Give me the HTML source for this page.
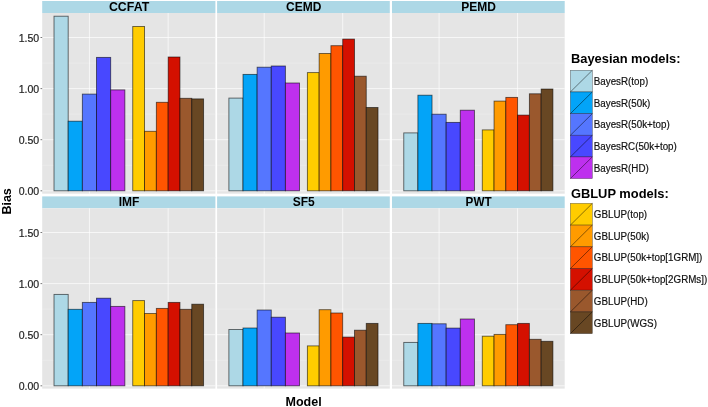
<!DOCTYPE html>
<html><head><meta charset="utf-8"><title>Bias by model</title>
<style>
html,body{margin:0;padding:0;background:#fff;}
body{width:708px;height:407px;overflow:hidden;}
svg{display:block;}
text{font-family:"Liberation Sans",Arial,sans-serif;}
.st{font-size:12px;font-weight:bold;fill:#000;text-anchor:middle;}
.yt{font-size:11.3px;fill:#222;stroke:#222;stroke-width:0.2px;text-anchor:end;}
.at{font-size:13px;font-weight:bold;fill:#000;}
.lt{font-size:13.3px;font-weight:bold;fill:#000;}
.ll{font-size:11.0px;fill:#111;stroke:#111;stroke-width:0.2px;}
</style></head>
<body><svg width="708" height="407" viewBox="0 0 708 407">
<rect width="708" height="407" fill="#fff"/>
<rect x="42.2" y="1" width="173.2" height="12" fill="#ADD8E6"/>
<text transform="translate(129.05,11) scale(1.03,1)" class="st">CCFAT</text>
<rect x="42.2" y="13" width="173.2" height="180.7" fill="#E5E5E5"/>
<line x1="42.2" x2="215.4" y1="165.25" y2="165.25" stroke="#F2F2F2" stroke-width="0.45"/>
<line x1="42.2" x2="215.4" y1="114.15" y2="114.15" stroke="#F2F2F2" stroke-width="0.45"/>
<line x1="42.2" x2="215.4" y1="63.05" y2="63.05" stroke="#F2F2F2" stroke-width="0.45"/>
<line x1="42.2" x2="215.4" y1="190.8" y2="190.8" stroke="#FFFFFF" stroke-opacity="0.85" stroke-width="0.8"/>
<line x1="42.2" x2="215.4" y1="139.7" y2="139.7" stroke="#FFFFFF" stroke-opacity="0.85" stroke-width="0.8"/>
<line x1="42.2" x2="215.4" y1="88.6" y2="88.6" stroke="#FFFFFF" stroke-opacity="0.85" stroke-width="0.8"/>
<line x1="42.2" x2="215.4" y1="37.5" y2="37.5" stroke="#FFFFFF" stroke-opacity="0.85" stroke-width="0.8"/>
<line x1="89.44" x2="89.44" y1="13" y2="193.7" stroke="#FFFFFF" stroke-opacity="0.85" stroke-width="0.8"/>
<line x1="168.16" x2="168.16" y1="13" y2="193.7" stroke="#FFFFFF" stroke-opacity="0.85" stroke-width="0.8"/>
<rect x="54.01" y="16.2" width="14.17" height="174.6" fill="#ADD8E6" stroke="#000" stroke-opacity="0.6" stroke-width="0.9"/>
<rect x="68.18" y="121.2" width="14.17" height="69.6" fill="#03A4F8" stroke="#000" stroke-opacity="0.6" stroke-width="0.9"/>
<rect x="82.35" y="94.1" width="14.17" height="96.7" fill="#5576FF" stroke="#000" stroke-opacity="0.6" stroke-width="0.9"/>
<rect x="96.52" y="57.4" width="14.17" height="133.4" fill="#4848FF" stroke="#000" stroke-opacity="0.6" stroke-width="0.9"/>
<rect x="110.69" y="89.9" width="14.17" height="100.9" fill="#BE30EE" stroke="#000" stroke-opacity="0.6" stroke-width="0.9"/>
<rect x="132.74" y="26.5" width="11.81" height="164.3" fill="#FFCC00" stroke="#000" stroke-opacity="0.6" stroke-width="0.9"/>
<rect x="144.55" y="131.3" width="11.81" height="59.5" fill="#FF9B00" stroke="#000" stroke-opacity="0.6" stroke-width="0.9"/>
<rect x="156.35" y="102.3" width="11.81" height="88.5" fill="#FF5500" stroke="#000" stroke-opacity="0.6" stroke-width="0.9"/>
<rect x="168.16" y="57" width="11.81" height="133.8" fill="#D41000" stroke="#000" stroke-opacity="0.6" stroke-width="0.9"/>
<rect x="179.97" y="98.3" width="11.81" height="92.5" fill="#9A582D" stroke="#000" stroke-opacity="0.6" stroke-width="0.9"/>
<rect x="191.78" y="98.9" width="11.81" height="91.9" fill="#684723" stroke="#000" stroke-opacity="0.6" stroke-width="0.9"/>
<rect x="217.1" y="1" width="172.7" height="12" fill="#ADD8E6"/>
<text transform="translate(303.7,11) scale(1.0,1)" class="st">CEMD</text>
<rect x="217.1" y="13" width="172.7" height="180.7" fill="#E5E5E5"/>
<line x1="217.1" x2="389.8" y1="165.25" y2="165.25" stroke="#F2F2F2" stroke-width="0.45"/>
<line x1="217.1" x2="389.8" y1="114.15" y2="114.15" stroke="#F2F2F2" stroke-width="0.45"/>
<line x1="217.1" x2="389.8" y1="63.05" y2="63.05" stroke="#F2F2F2" stroke-width="0.45"/>
<line x1="217.1" x2="389.8" y1="190.8" y2="190.8" stroke="#FFFFFF" stroke-opacity="0.85" stroke-width="0.8"/>
<line x1="217.1" x2="389.8" y1="139.7" y2="139.7" stroke="#FFFFFF" stroke-opacity="0.85" stroke-width="0.8"/>
<line x1="217.1" x2="389.8" y1="88.6" y2="88.6" stroke="#FFFFFF" stroke-opacity="0.85" stroke-width="0.8"/>
<line x1="217.1" x2="389.8" y1="37.5" y2="37.5" stroke="#FFFFFF" stroke-opacity="0.85" stroke-width="0.8"/>
<line x1="264.2" x2="264.2" y1="13" y2="193.7" stroke="#FFFFFF" stroke-opacity="0.85" stroke-width="0.8"/>
<line x1="342.7" x2="342.7" y1="13" y2="193.7" stroke="#FFFFFF" stroke-opacity="0.85" stroke-width="0.8"/>
<rect x="228.88" y="98.1" width="14.13" height="92.7" fill="#ADD8E6" stroke="#000" stroke-opacity="0.6" stroke-width="0.9"/>
<rect x="243" y="74.4" width="14.13" height="116.4" fill="#03A4F8" stroke="#000" stroke-opacity="0.6" stroke-width="0.9"/>
<rect x="257.13" y="67.2" width="14.13" height="123.6" fill="#5576FF" stroke="#000" stroke-opacity="0.6" stroke-width="0.9"/>
<rect x="271.26" y="66" width="14.13" height="124.8" fill="#4848FF" stroke="#000" stroke-opacity="0.6" stroke-width="0.9"/>
<rect x="285.39" y="83" width="14.13" height="107.8" fill="#BE30EE" stroke="#000" stroke-opacity="0.6" stroke-width="0.9"/>
<rect x="307.38" y="72.6" width="11.77" height="118.2" fill="#FFCC00" stroke="#000" stroke-opacity="0.6" stroke-width="0.9"/>
<rect x="319.15" y="53.5" width="11.77" height="137.3" fill="#FF9B00" stroke="#000" stroke-opacity="0.6" stroke-width="0.9"/>
<rect x="330.93" y="45.7" width="11.77" height="145.1" fill="#FF5500" stroke="#000" stroke-opacity="0.6" stroke-width="0.9"/>
<rect x="342.7" y="39.1" width="11.77" height="151.7" fill="#D41000" stroke="#000" stroke-opacity="0.6" stroke-width="0.9"/>
<rect x="354.48" y="76.2" width="11.77" height="114.6" fill="#9A582D" stroke="#000" stroke-opacity="0.6" stroke-width="0.9"/>
<rect x="366.25" y="107.5" width="11.77" height="83.3" fill="#684723" stroke="#000" stroke-opacity="0.6" stroke-width="0.9"/>
<rect x="392" y="1" width="172.7" height="12" fill="#ADD8E6"/>
<text transform="translate(478.6,11) scale(1.0,1)" class="st">PEMD</text>
<rect x="392" y="13" width="172.7" height="180.7" fill="#E5E5E5"/>
<line x1="392" x2="564.7" y1="165.25" y2="165.25" stroke="#F2F2F2" stroke-width="0.45"/>
<line x1="392" x2="564.7" y1="114.15" y2="114.15" stroke="#F2F2F2" stroke-width="0.45"/>
<line x1="392" x2="564.7" y1="63.05" y2="63.05" stroke="#F2F2F2" stroke-width="0.45"/>
<line x1="392" x2="564.7" y1="190.8" y2="190.8" stroke="#FFFFFF" stroke-opacity="0.85" stroke-width="0.8"/>
<line x1="392" x2="564.7" y1="139.7" y2="139.7" stroke="#FFFFFF" stroke-opacity="0.85" stroke-width="0.8"/>
<line x1="392" x2="564.7" y1="88.6" y2="88.6" stroke="#FFFFFF" stroke-opacity="0.85" stroke-width="0.8"/>
<line x1="392" x2="564.7" y1="37.5" y2="37.5" stroke="#FFFFFF" stroke-opacity="0.85" stroke-width="0.8"/>
<line x1="439.1" x2="439.1" y1="13" y2="193.7" stroke="#FFFFFF" stroke-opacity="0.85" stroke-width="0.8"/>
<line x1="517.6" x2="517.6" y1="13" y2="193.7" stroke="#FFFFFF" stroke-opacity="0.85" stroke-width="0.8"/>
<rect x="403.77" y="132.9" width="14.13" height="57.9" fill="#ADD8E6" stroke="#000" stroke-opacity="0.6" stroke-width="0.9"/>
<rect x="417.9" y="95.2" width="14.13" height="95.6" fill="#03A4F8" stroke="#000" stroke-opacity="0.6" stroke-width="0.9"/>
<rect x="432.03" y="114.2" width="14.13" height="76.6" fill="#5576FF" stroke="#000" stroke-opacity="0.6" stroke-width="0.9"/>
<rect x="446.16" y="122.4" width="14.13" height="68.4" fill="#4848FF" stroke="#000" stroke-opacity="0.6" stroke-width="0.9"/>
<rect x="460.29" y="110.2" width="14.13" height="80.6" fill="#BE30EE" stroke="#000" stroke-opacity="0.6" stroke-width="0.9"/>
<rect x="482.28" y="129.9" width="11.77" height="60.9" fill="#FFCC00" stroke="#000" stroke-opacity="0.6" stroke-width="0.9"/>
<rect x="494.05" y="101.1" width="11.77" height="89.7" fill="#FF9B00" stroke="#000" stroke-opacity="0.6" stroke-width="0.9"/>
<rect x="505.83" y="97.4" width="11.77" height="93.4" fill="#FF5500" stroke="#000" stroke-opacity="0.6" stroke-width="0.9"/>
<rect x="517.6" y="115.1" width="11.77" height="75.7" fill="#D41000" stroke="#000" stroke-opacity="0.6" stroke-width="0.9"/>
<rect x="529.38" y="93.8" width="11.77" height="97" fill="#9A582D" stroke="#000" stroke-opacity="0.6" stroke-width="0.9"/>
<rect x="541.15" y="89" width="11.77" height="101.8" fill="#684723" stroke="#000" stroke-opacity="0.6" stroke-width="0.9"/>
<rect x="42.2" y="196.4" width="173.2" height="11.9" fill="#ADD8E6"/>
<text transform="translate(129.05,206.3) scale(1.0,1)" class="st">IMF</text>
<rect x="42.2" y="208.3" width="173.2" height="180.3" fill="#E5E5E5"/>
<line x1="42.2" x2="215.4" y1="360.25" y2="360.25" stroke="#F2F2F2" stroke-width="0.45"/>
<line x1="42.2" x2="215.4" y1="309.15" y2="309.15" stroke="#F2F2F2" stroke-width="0.45"/>
<line x1="42.2" x2="215.4" y1="258.05" y2="258.05" stroke="#F2F2F2" stroke-width="0.45"/>
<line x1="42.2" x2="215.4" y1="385.8" y2="385.8" stroke="#FFFFFF" stroke-opacity="0.85" stroke-width="0.8"/>
<line x1="42.2" x2="215.4" y1="334.7" y2="334.7" stroke="#FFFFFF" stroke-opacity="0.85" stroke-width="0.8"/>
<line x1="42.2" x2="215.4" y1="283.6" y2="283.6" stroke="#FFFFFF" stroke-opacity="0.85" stroke-width="0.8"/>
<line x1="42.2" x2="215.4" y1="232.5" y2="232.5" stroke="#FFFFFF" stroke-opacity="0.85" stroke-width="0.8"/>
<line x1="89.44" x2="89.44" y1="208.3" y2="388.6" stroke="#FFFFFF" stroke-opacity="0.85" stroke-width="0.8"/>
<line x1="168.16" x2="168.16" y1="208.3" y2="388.6" stroke="#FFFFFF" stroke-opacity="0.85" stroke-width="0.8"/>
<rect x="54.01" y="294.4" width="14.17" height="91.4" fill="#ADD8E6" stroke="#000" stroke-opacity="0.6" stroke-width="0.9"/>
<rect x="68.18" y="309.3" width="14.17" height="76.5" fill="#03A4F8" stroke="#000" stroke-opacity="0.6" stroke-width="0.9"/>
<rect x="82.35" y="302.4" width="14.17" height="83.4" fill="#5576FF" stroke="#000" stroke-opacity="0.6" stroke-width="0.9"/>
<rect x="96.52" y="298.2" width="14.17" height="87.6" fill="#4848FF" stroke="#000" stroke-opacity="0.6" stroke-width="0.9"/>
<rect x="110.69" y="306.4" width="14.17" height="79.4" fill="#BE30EE" stroke="#000" stroke-opacity="0.6" stroke-width="0.9"/>
<rect x="132.74" y="300.6" width="11.81" height="85.2" fill="#FFCC00" stroke="#000" stroke-opacity="0.6" stroke-width="0.9"/>
<rect x="144.55" y="313.5" width="11.81" height="72.3" fill="#FF9B00" stroke="#000" stroke-opacity="0.6" stroke-width="0.9"/>
<rect x="156.35" y="308.4" width="11.81" height="77.4" fill="#FF5500" stroke="#000" stroke-opacity="0.6" stroke-width="0.9"/>
<rect x="168.16" y="302.4" width="11.81" height="83.4" fill="#D41000" stroke="#000" stroke-opacity="0.6" stroke-width="0.9"/>
<rect x="179.97" y="309.3" width="11.81" height="76.5" fill="#9A582D" stroke="#000" stroke-opacity="0.6" stroke-width="0.9"/>
<rect x="191.78" y="304.2" width="11.81" height="81.6" fill="#684723" stroke="#000" stroke-opacity="0.6" stroke-width="0.9"/>
<rect x="217.1" y="196.4" width="172.7" height="11.9" fill="#ADD8E6"/>
<text transform="translate(303.7,206.3) scale(1.0,1)" class="st">SF5</text>
<rect x="217.1" y="208.3" width="172.7" height="180.3" fill="#E5E5E5"/>
<line x1="217.1" x2="389.8" y1="360.25" y2="360.25" stroke="#F2F2F2" stroke-width="0.45"/>
<line x1="217.1" x2="389.8" y1="309.15" y2="309.15" stroke="#F2F2F2" stroke-width="0.45"/>
<line x1="217.1" x2="389.8" y1="258.05" y2="258.05" stroke="#F2F2F2" stroke-width="0.45"/>
<line x1="217.1" x2="389.8" y1="385.8" y2="385.8" stroke="#FFFFFF" stroke-opacity="0.85" stroke-width="0.8"/>
<line x1="217.1" x2="389.8" y1="334.7" y2="334.7" stroke="#FFFFFF" stroke-opacity="0.85" stroke-width="0.8"/>
<line x1="217.1" x2="389.8" y1="283.6" y2="283.6" stroke="#FFFFFF" stroke-opacity="0.85" stroke-width="0.8"/>
<line x1="217.1" x2="389.8" y1="232.5" y2="232.5" stroke="#FFFFFF" stroke-opacity="0.85" stroke-width="0.8"/>
<line x1="264.2" x2="264.2" y1="208.3" y2="388.6" stroke="#FFFFFF" stroke-opacity="0.85" stroke-width="0.8"/>
<line x1="342.7" x2="342.7" y1="208.3" y2="388.6" stroke="#FFFFFF" stroke-opacity="0.85" stroke-width="0.8"/>
<rect x="228.88" y="329.5" width="14.13" height="56.3" fill="#ADD8E6" stroke="#000" stroke-opacity="0.6" stroke-width="0.9"/>
<rect x="243" y="328" width="14.13" height="57.8" fill="#03A4F8" stroke="#000" stroke-opacity="0.6" stroke-width="0.9"/>
<rect x="257.13" y="310" width="14.13" height="75.8" fill="#5576FF" stroke="#000" stroke-opacity="0.6" stroke-width="0.9"/>
<rect x="271.26" y="317.2" width="14.13" height="68.6" fill="#4848FF" stroke="#000" stroke-opacity="0.6" stroke-width="0.9"/>
<rect x="285.39" y="333" width="14.13" height="52.8" fill="#BE30EE" stroke="#000" stroke-opacity="0.6" stroke-width="0.9"/>
<rect x="307.38" y="345.9" width="11.77" height="39.9" fill="#FFCC00" stroke="#000" stroke-opacity="0.6" stroke-width="0.9"/>
<rect x="319.15" y="309.7" width="11.77" height="76.1" fill="#FF9B00" stroke="#000" stroke-opacity="0.6" stroke-width="0.9"/>
<rect x="330.93" y="313" width="11.77" height="72.8" fill="#FF5500" stroke="#000" stroke-opacity="0.6" stroke-width="0.9"/>
<rect x="342.7" y="337.1" width="11.77" height="48.7" fill="#D41000" stroke="#000" stroke-opacity="0.6" stroke-width="0.9"/>
<rect x="354.48" y="330.2" width="11.77" height="55.6" fill="#9A582D" stroke="#000" stroke-opacity="0.6" stroke-width="0.9"/>
<rect x="366.25" y="323.4" width="11.77" height="62.4" fill="#684723" stroke="#000" stroke-opacity="0.6" stroke-width="0.9"/>
<rect x="392" y="196.4" width="172.7" height="11.9" fill="#ADD8E6"/>
<text transform="translate(478.6,206.3) scale(0.975,1)" class="st">PWT</text>
<rect x="392" y="208.3" width="172.7" height="180.3" fill="#E5E5E5"/>
<line x1="392" x2="564.7" y1="360.25" y2="360.25" stroke="#F2F2F2" stroke-width="0.45"/>
<line x1="392" x2="564.7" y1="309.15" y2="309.15" stroke="#F2F2F2" stroke-width="0.45"/>
<line x1="392" x2="564.7" y1="258.05" y2="258.05" stroke="#F2F2F2" stroke-width="0.45"/>
<line x1="392" x2="564.7" y1="385.8" y2="385.8" stroke="#FFFFFF" stroke-opacity="0.85" stroke-width="0.8"/>
<line x1="392" x2="564.7" y1="334.7" y2="334.7" stroke="#FFFFFF" stroke-opacity="0.85" stroke-width="0.8"/>
<line x1="392" x2="564.7" y1="283.6" y2="283.6" stroke="#FFFFFF" stroke-opacity="0.85" stroke-width="0.8"/>
<line x1="392" x2="564.7" y1="232.5" y2="232.5" stroke="#FFFFFF" stroke-opacity="0.85" stroke-width="0.8"/>
<line x1="439.1" x2="439.1" y1="208.3" y2="388.6" stroke="#FFFFFF" stroke-opacity="0.85" stroke-width="0.8"/>
<line x1="517.6" x2="517.6" y1="208.3" y2="388.6" stroke="#FFFFFF" stroke-opacity="0.85" stroke-width="0.8"/>
<rect x="403.77" y="342.4" width="14.13" height="43.4" fill="#ADD8E6" stroke="#000" stroke-opacity="0.6" stroke-width="0.9"/>
<rect x="417.9" y="323.4" width="14.13" height="62.4" fill="#03A4F8" stroke="#000" stroke-opacity="0.6" stroke-width="0.9"/>
<rect x="432.03" y="323.8" width="14.13" height="62" fill="#5576FF" stroke="#000" stroke-opacity="0.6" stroke-width="0.9"/>
<rect x="446.16" y="328.1" width="14.13" height="57.7" fill="#4848FF" stroke="#000" stroke-opacity="0.6" stroke-width="0.9"/>
<rect x="460.29" y="319" width="14.13" height="66.8" fill="#BE30EE" stroke="#000" stroke-opacity="0.6" stroke-width="0.9"/>
<rect x="482.28" y="336.2" width="11.77" height="49.6" fill="#FFCC00" stroke="#000" stroke-opacity="0.6" stroke-width="0.9"/>
<rect x="494.05" y="334.4" width="11.77" height="51.4" fill="#FF9B00" stroke="#000" stroke-opacity="0.6" stroke-width="0.9"/>
<rect x="505.83" y="324.7" width="11.77" height="61.1" fill="#FF5500" stroke="#000" stroke-opacity="0.6" stroke-width="0.9"/>
<rect x="517.6" y="323.4" width="11.77" height="62.4" fill="#D41000" stroke="#000" stroke-opacity="0.6" stroke-width="0.9"/>
<rect x="529.38" y="339.3" width="11.77" height="46.5" fill="#9A582D" stroke="#000" stroke-opacity="0.6" stroke-width="0.9"/>
<rect x="541.15" y="341.3" width="11.77" height="44.5" fill="#684723" stroke="#000" stroke-opacity="0.6" stroke-width="0.9"/>
<line x1="40.5" x2="42.2" y1="190.8" y2="190.8" stroke="#555" stroke-width="0.8"/>
<text transform="translate(39.2,195.2) scale(0.935,1)" class="yt">0.00</text>
<line x1="40.5" x2="42.2" y1="139.7" y2="139.7" stroke="#555" stroke-width="0.8"/>
<text transform="translate(39.2,144.1) scale(0.935,1)" class="yt">0.50</text>
<line x1="40.5" x2="42.2" y1="88.6" y2="88.6" stroke="#555" stroke-width="0.8"/>
<text transform="translate(39.2,93) scale(0.935,1)" class="yt">1.00</text>
<line x1="40.5" x2="42.2" y1="37.5" y2="37.5" stroke="#555" stroke-width="0.8"/>
<text transform="translate(39.2,41.9) scale(0.935,1)" class="yt">1.50</text>
<line x1="40.5" x2="42.2" y1="385.8" y2="385.8" stroke="#555" stroke-width="0.8"/>
<text transform="translate(39.2,390.2) scale(0.935,1)" class="yt">0.00</text>
<line x1="40.5" x2="42.2" y1="334.7" y2="334.7" stroke="#555" stroke-width="0.8"/>
<text transform="translate(39.2,339.1) scale(0.935,1)" class="yt">0.50</text>
<line x1="40.5" x2="42.2" y1="283.6" y2="283.6" stroke="#555" stroke-width="0.8"/>
<text transform="translate(39.2,288) scale(0.935,1)" class="yt">1.00</text>
<line x1="40.5" x2="42.2" y1="232.5" y2="232.5" stroke="#555" stroke-width="0.8"/>
<text transform="translate(39.2,236.9) scale(0.935,1)" class="yt">1.50</text>
<text transform="translate(303.6,405.8) scale(0.915,1)" class="at" style="font-size:13.7px" text-anchor="middle">Model</text>
<text transform="translate(10.5,201.4) rotate(-90)" class="at" style="font-size:12.5px" text-anchor="middle">Bias</text>
<text transform="translate(570.9,63.3) scale(0.97,1)" class="lt">Bayesian models:</text>
<rect x="570.4" y="70.3" width="21.9" height="21.65" fill="#ADD8E6" stroke="#000" stroke-opacity="0.5" stroke-width="0.6"/>
<line x1="570.4" y1="91.95" x2="592.3" y2="70.3" stroke="#000" stroke-opacity="0.85" stroke-width="0.55"/>
<text transform="translate(593.8,84.92) scale(0.890909090909091,1)" class="ll">BayesR(top)</text>
<rect x="570.4" y="91.95" width="21.9" height="21.65" fill="#03A4F8" stroke="#000" stroke-opacity="0.5" stroke-width="0.6"/>
<line x1="570.4" y1="113.6" x2="592.3" y2="91.95" stroke="#000" stroke-opacity="0.85" stroke-width="0.55"/>
<text transform="translate(593.8,106.57) scale(0.890909090909091,1)" class="ll">BayesR(50k)</text>
<rect x="570.4" y="113.6" width="21.9" height="21.65" fill="#5576FF" stroke="#000" stroke-opacity="0.5" stroke-width="0.6"/>
<line x1="570.4" y1="135.25" x2="592.3" y2="113.6" stroke="#000" stroke-opacity="0.85" stroke-width="0.55"/>
<text transform="translate(593.8,128.22) scale(0.890909090909091,1)" class="ll">BayesR(50k+top)</text>
<rect x="570.4" y="135.25" width="21.9" height="21.65" fill="#4848FF" stroke="#000" stroke-opacity="0.5" stroke-width="0.6"/>
<line x1="570.4" y1="156.9" x2="592.3" y2="135.25" stroke="#000" stroke-opacity="0.85" stroke-width="0.55"/>
<text transform="translate(593.8,149.88) scale(0.890909090909091,1)" class="ll">BayesRC(50k+top)</text>
<rect x="570.4" y="156.9" width="21.9" height="21.65" fill="#BE30EE" stroke="#000" stroke-opacity="0.5" stroke-width="0.6"/>
<line x1="570.4" y1="178.55" x2="592.3" y2="156.9" stroke="#000" stroke-opacity="0.85" stroke-width="0.55"/>
<text transform="translate(593.8,171.52) scale(0.890909090909091,1)" class="ll">BayesR(HD)</text>
<text transform="translate(570.9,198.4) scale(0.97,1)" class="lt">GBLUP models:</text>
<rect x="570.4" y="203.4" width="21.9" height="21.7" fill="#FFCC00" stroke="#000" stroke-opacity="0.5" stroke-width="0.6"/>
<line x1="570.4" y1="225.1" x2="592.3" y2="203.4" stroke="#000" stroke-opacity="0.85" stroke-width="0.55"/>
<text transform="translate(593.8,218.05) scale(0.890909090909091,1)" class="ll">GBLUP(top)</text>
<rect x="570.4" y="225.1" width="21.9" height="21.7" fill="#FF9B00" stroke="#000" stroke-opacity="0.5" stroke-width="0.6"/>
<line x1="570.4" y1="246.8" x2="592.3" y2="225.1" stroke="#000" stroke-opacity="0.85" stroke-width="0.55"/>
<text transform="translate(593.8,239.75) scale(0.890909090909091,1)" class="ll">GBLUP(50k)</text>
<rect x="570.4" y="246.8" width="21.9" height="21.7" fill="#FF5500" stroke="#000" stroke-opacity="0.5" stroke-width="0.6"/>
<line x1="570.4" y1="268.5" x2="592.3" y2="246.8" stroke="#000" stroke-opacity="0.85" stroke-width="0.55"/>
<text transform="translate(593.8,261.45) scale(0.890909090909091,1)" class="ll">GBLUP(50k+top[1GRM])</text>
<rect x="570.4" y="268.5" width="21.9" height="21.7" fill="#D41000" stroke="#000" stroke-opacity="0.5" stroke-width="0.6"/>
<line x1="570.4" y1="290.2" x2="592.3" y2="268.5" stroke="#000" stroke-opacity="0.85" stroke-width="0.55"/>
<text transform="translate(593.8,283.15) scale(0.890909090909091,1)" class="ll">GBLUP(50k+top[2GRMs])</text>
<rect x="570.4" y="290.2" width="21.9" height="21.7" fill="#9A582D" stroke="#000" stroke-opacity="0.5" stroke-width="0.6"/>
<line x1="570.4" y1="311.9" x2="592.3" y2="290.2" stroke="#000" stroke-opacity="0.85" stroke-width="0.55"/>
<text transform="translate(593.8,304.85) scale(0.890909090909091,1)" class="ll">GBLUP(HD)</text>
<rect x="570.4" y="311.9" width="21.9" height="21.7" fill="#684723" stroke="#000" stroke-opacity="0.5" stroke-width="0.6"/>
<line x1="570.4" y1="333.6" x2="592.3" y2="311.9" stroke="#000" stroke-opacity="0.85" stroke-width="0.55"/>
<text transform="translate(593.8,326.55) scale(0.890909090909091,1)" class="ll">GBLUP(WGS)</text>
</svg></body></html>
